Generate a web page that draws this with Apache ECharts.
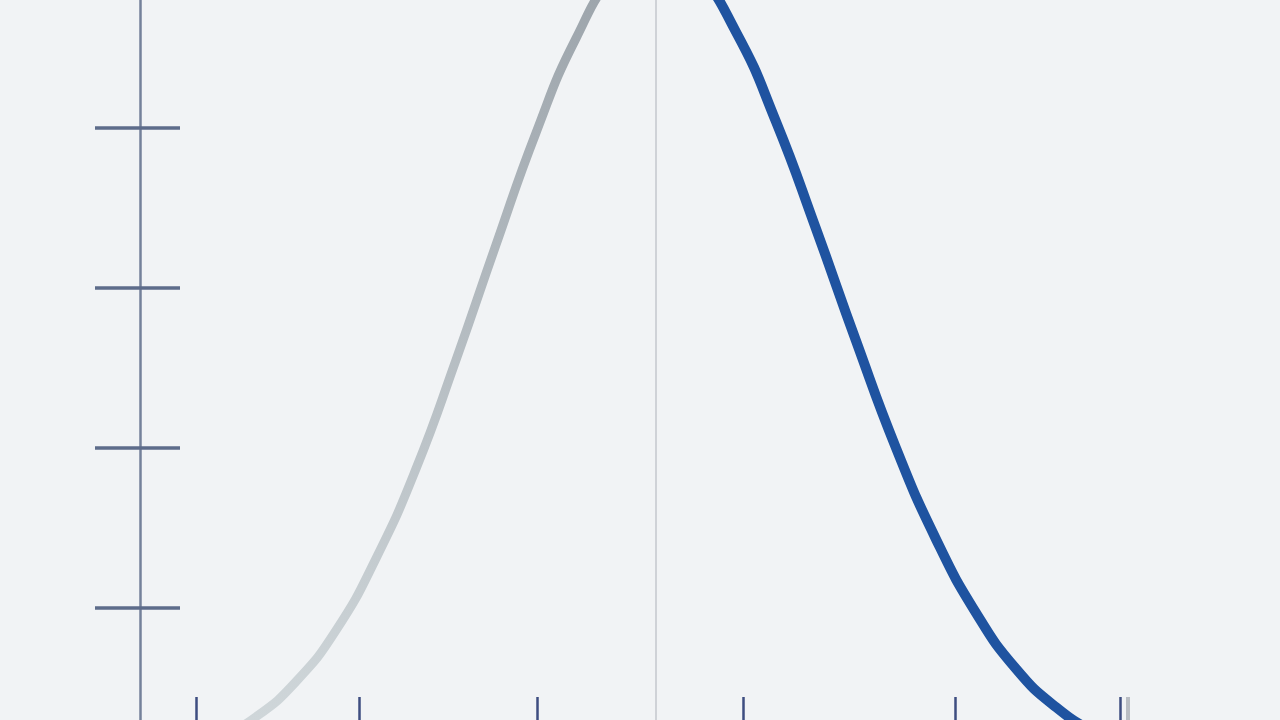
<!DOCTYPE html>
<html>
<head>
<meta charset="utf-8">
<script src="https://cdn.jsdelivr.net/npm/echarts@6/dist/echarts.min.js"></script>
<style>
html,body{margin:0;padding:0;background:#f1f3f5;}
#chart{width:1280px;height:720px;}
</style>
</head>
<body>
<div id="chart"></div>
<script>
// Left (gray) half of the curve: [x, density]
const leftX = [-3.2, -3.0, -2.75, -2.5, -2.25, -2.0, -1.75, -1.5, -1.25, -1.0, -0.75, -0.5, -0.25, 0];
const leftY = [0.05, 0.09, 0.18, 0.32, 0.54, 0.86, 1.31, 1.87, 2.55, 3.27, 3.97, 4.56, 4.96, 5.10];
// Right (blue) half of the curve
const rightX = [0, 0.25, 0.5, 0.75, 1.0, 1.25, 1.5, 1.75, 2.0, 2.25, 2.5, 2.75, 3.0, 3.25, 3.5];
const rightY = [5.10, 4.97, 4.60, 4.04, 3.37, 2.67, 2.00, 1.43, 0.97, 0.62, 0.38, 0.22, 0.12, 0.064, 0.03];
// Tick positions
const xTicks = [-2.875, -1.856, -0.744, 0.544, 1.869, 2.9];
const xTickExtra = [2.95];
const yTicks = [1, 2, 3, 4];
const centerX = 0;

const zip = (a, b) => a.map((v, i) => [v, b[i]]);

const chart = echarts.init(document.getElementById('chart'));
const axisColor = '#5d6c8a';
const xAxisBase = {
  type: 'value', min: -3.225, max: 3.9, position: 'bottom',
  axisLine: {show: false, onZero: false}, splitLine: {show: false}, axisLabel: {show: false}
};
const yAxisBase = {
  type: 'value', min: 0.3, max: 4.8, position: 'left',
  splitLine: {show: false}, axisLabel: {show: false}
};
chart.setOption({
  backgroundColor: '#f1f3f5',
  animation: false,
  grid: {left: 140, right: 0, top: 0, bottom: 0, containLabel: false},
  xAxis: [
    Object.assign({}, xAxisBase, {
      axisTick: {show: true, inside: true, length: 23, customValues: xTicks,
        lineStyle: {color: '#3e4d80', width: 2.5}}
    }),
    Object.assign({}, xAxisBase, {
      axisTick: {show: true, inside: true, length: 23, customValues: xTickExtra,
        lineStyle: {color: '#b9bdc3', width: 4}}
    })
  ],
  yAxis: [
    Object.assign({}, yAxisBase, {
      axisLine: {show: true, onZero: false, lineStyle: {color: '#74819a', width: 2.5}},
      axisTick: {show: true, inside: false, length: 45, customValues: yTicks,
        lineStyle: {color: axisColor, width: 3.5}}
    }),
    Object.assign({}, yAxisBase, {
      axisLine: {show: false, onZero: false},
      axisTick: {show: true, inside: true, length: 40, customValues: yTicks,
        lineStyle: {color: axisColor, width: 3.5}}
    })
  ],
  series: [
    {
      type: 'line', name: 'left', smooth: true, showSymbol: false,
      data: zip(leftX, leftY),
      lineStyle: {
        width: 9, cap: 'round',
        color: new echarts.graphic.LinearGradient(0, 0, 0, 1, [
          {offset: 0, color: '#9aa2a9'},
          {offset: 1, color: '#d2d9dc'}
        ])
      },
      markLine: {
        silent: true, symbol: 'none', label: {show: false},
        lineStyle: {color: '#c3c7cc', width: 1.5, type: 'solid'},
        data: [{xAxis: centerX}]
      }
    },
    {
      type: 'line', name: 'right', smooth: true, showSymbol: false,
      data: zip(rightX, rightY),
      lineStyle: {width: 10, cap: 'round', color: '#1f53a0'}
    }
  ]
});
</script>
</body>
</html>
